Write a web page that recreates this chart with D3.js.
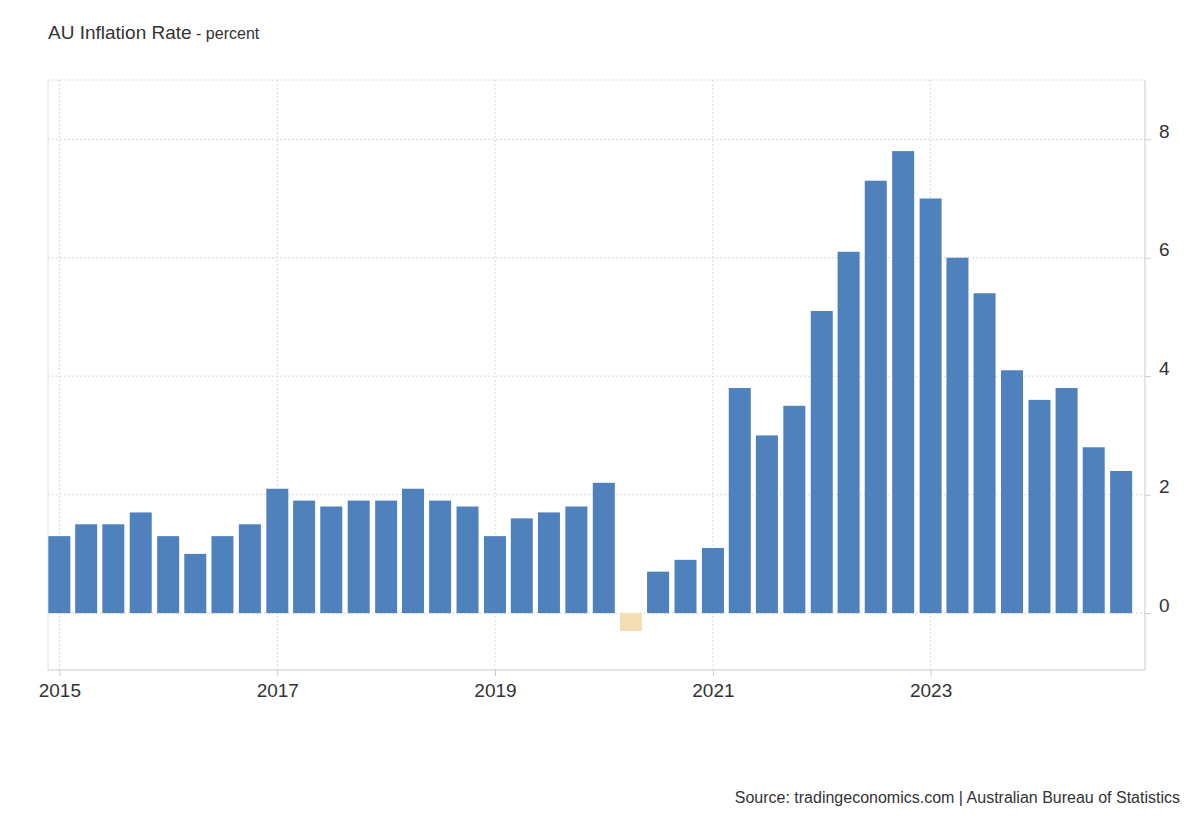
<!DOCTYPE html><html><head><meta charset="utf-8">
<script src="https://cdn.jsdelivr.net/npm/d3@7"></script>
<style>body{margin:0;background:#fff;font-family:"Liberation Sans",Arial,sans-serif}</style></head>
<body><svg id="c" width="1200" height="820"></svg>
<script>
const quarters = d3.range(40).map(i => new Date(2015 + Math.floor(i/4), (i%4)*3, 1));
const values = [1.3,1.5,1.5,1.7,1.3,1.0,1.3,1.5,2.1,1.9,1.8,1.9,1.9,2.1,1.9,1.8,1.3,1.6,1.7,1.8,2.2,-0.3,0.7,0.9,1.1,3.8,3.0,3.5,5.1,6.1,7.3,7.8,7.0,6.0,5.4,4.1,3.6,3.8,2.8,2.4];
const yTicks = [0,2,4,6,8];
const xTickYears = [2015,2017,2019,2021,2023];

const svg = d3.select("#c");
const L=48,R=1145,T=80,B=670;
const x = d3.scaleTime().domain([new Date(2014,10,24), new Date(2024,11,20)]).range([L,R]);
const y = d3.scaleLinear().domain([-0.96,9]).range([B,T]);

const g = svg.append("g");
// grid
g.selectAll(".hg").data(yTicks.concat([9])).join("line").attr("x1",L).attr("x2",R)
 .attr("y1",d=>y(d)).attr("y2",d=>y(d)).attr("stroke","#d9d9d9").attr("stroke-dasharray","2,2");
g.selectAll(".vg").data(xTickYears).join("line").attr("x1",d=>x(new Date(d,0,1))).attr("x2",d=>x(new Date(d,0,1)))
 .attr("y1",T).attr("y2",B).attr("stroke","#d9d9d9").attr("stroke-dasharray","2,2");
// borders
g.append("line").attr("x1",L).attr("x2",L).attr("y1",T).attr("y2",B).attr("stroke","#e0e0e0");
g.append("line").attr("x1",L).attr("x2",R).attr("y1",B).attr("y2",B).attr("stroke","#ccc");
g.append("line").attr("x1",R).attr("x2",R).attr("y1",T).attr("y2",B).attr("stroke","#ccc");
// bars
const bw = 22;
g.selectAll(".bar").data(values).join("rect")
 .attr("x",(d,i)=>x(quarters[i])-bw/2).attr("width",bw)
 .attr("y",d=>y(Math.max(0,d))).attr("height",d=>Math.abs(y(d)-y(0)))
 .attr("fill",d=>d<0?"#f5deb3":"#4f81bd");
// y axis right
const ya = svg.append("g").attr("transform",`translate(${R},0)`)
 .call(d3.axisRight(y).tickValues(yTicks).tickSize(6).tickPadding(8).tickFormat(d3.format("d")));
ya.select(".domain").remove();
ya.selectAll("line").attr("stroke","#ccc");
ya.selectAll("text").attr("font-size",19).attr("fill","#333").attr("font-family","Liberation Sans, Arial").attr("dy","-0.1em");
// x axis
const xa = svg.append("g").attr("transform",`translate(0,${B})`)
 .call(d3.axisBottom(x).tickValues(xTickYears.map(d=>new Date(d,0,1))).tickSize(6).tickPadding(8).tickFormat(d3.timeFormat("%Y")));
xa.select(".domain").remove();
xa.selectAll("line").attr("stroke","#ccc");
xa.selectAll("text").attr("font-size",19).attr("fill","#333").attr("font-family","Liberation Sans, Arial");
// title
const t = svg.append("text").attr("x",48).attr("y",39).attr("fill","#333");
t.append("tspan").attr("font-size",19).text("AU Inflation Rate");
t.append("tspan").attr("font-size",16).text(" - percent");
svg.append("text").attr("x",1180).attr("y",803).attr("text-anchor","end").attr("font-size",16).attr("fill","#333")
 .text("Source: tradingeconomics.com | Australian Bureau of Statistics");
</script></body></html>
